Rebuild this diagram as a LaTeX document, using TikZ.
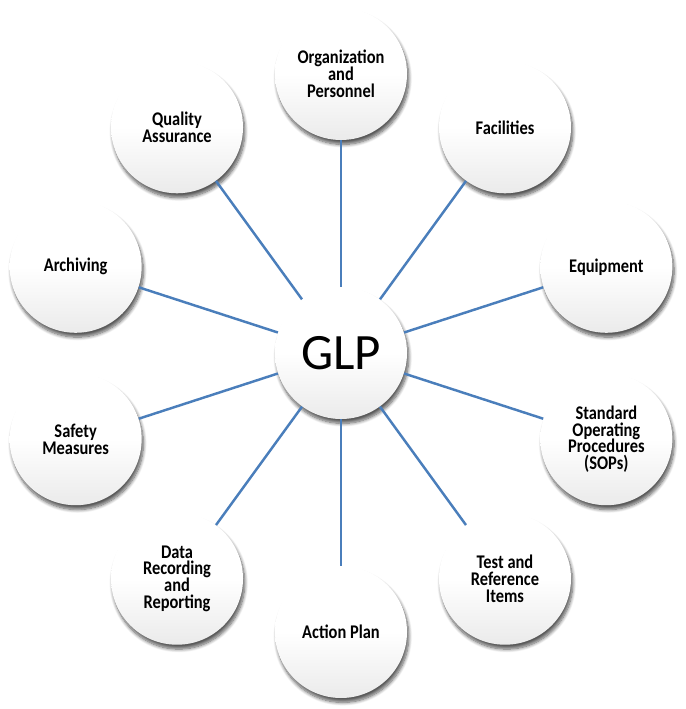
\documentclass[tikz,border=0pt]{standalone}
\usepackage{fontspec}
\setmainfont{Carlito}
\newfontfamily\ringfont[FakeStretch=0.85]{Carlito}
\usetikzlibrary{shadows.blur}

\definecolor{linkblue}{RGB}{74,126,187}

\begin{document}
\begin{tikzpicture}[
  ring/.style={circle, minimum size=2.64cm, inner sep=0pt,
               top color=white, bottom color=gray!16, middle color=white,
               blur shadow={shadow xshift=1pt, shadow yshift=-2.5pt,
                            shadow blur steps=8, shadow opacity=65},
               align=center, font=\ringfont\fontsize{11}{9.6}\selectfont\bfseries},
  hub/.style={ring, font=\fontsize{29}{30}\selectfont},
  link/.style={draw=linkblue, line width=1.4pt}
]
\useasboundingbox (-6.82,-7.12) rectangle (6.88,7.06);

\node[hub] (glp) at (0,0) {GLP};

% ring of topics, 36 degrees apart
\node[ring] (org)  at (90:5.58)  {Organization\\and\\Personnel};
\node[ring] (fac)  at (54:5.58)  {Facilities};
\node[ring] (equ)  at (18:5.58)  {Equipment};
\node[ring] (sop)  at (-18:5.58) {Standard\\Operating\\Procedures\\(SOPs)};
\node[ring] (test) at (-54:5.58) {Test and\\Reference\\Items};
\node[ring] (act)  at (-90:5.58) {Action Plan};
\node[ring] (data) at (234:5.58) {Data\\Recording\\and\\Reporting};
\node[ring] (safe) at (198:5.58) {Safety\\Measures};
\node[ring] (arch) at (162:5.58) {Archiving};
\node[ring] (qa)   at (126:5.58) {Quality\\Assurance};

\draw[link] (glp) -- (org);
\draw[link] (glp) -- (fac);
\draw[link] (glp) -- (equ);
\draw[link] (glp) -- (sop);
\draw[link] (glp) -- (test);
\draw[link] (glp) -- (act);
\draw[link] (glp) -- (data);
\draw[link] (glp) -- (safe);
\draw[link] (glp) -- (arch);
\draw[link] (glp) -- (qa);

\end{tikzpicture}
\end{document}
